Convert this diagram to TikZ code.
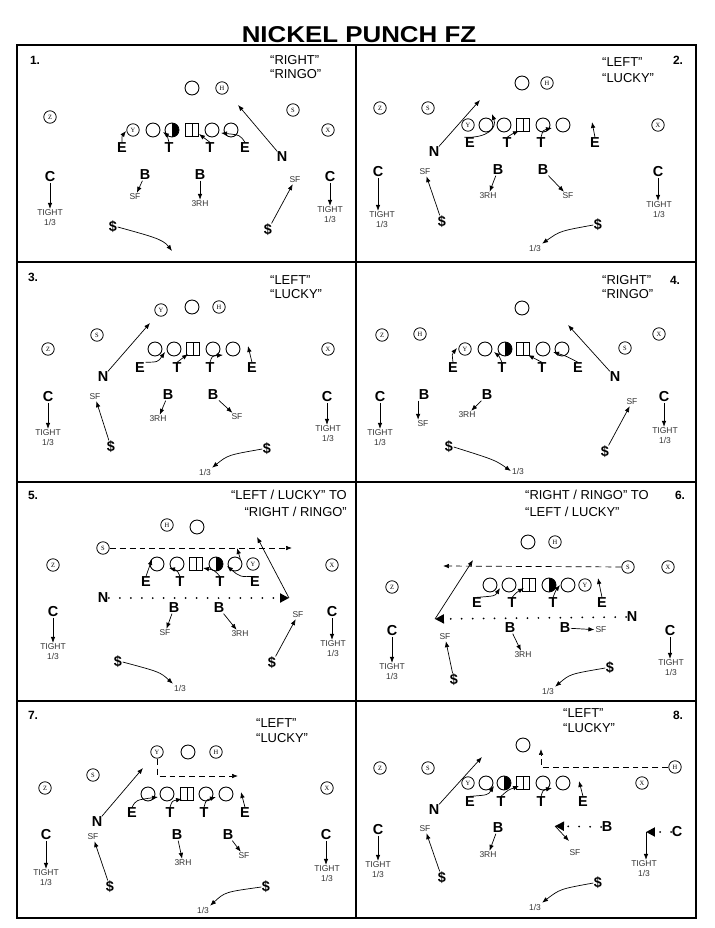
\documentclass[tikz,border=0pt]{standalone}
\usepackage{fontspec}
\usepackage{graphicx}
\setmainfont{Liberation Sans}
\newfontfamily\serifl{Liberation Serif}
\usetikzlibrary{arrows.meta}
\begin{document}
\begin{tikzpicture}[x=1bp,y=-1bp,
  plr/.style={circle,draw,line width=0.9pt,minimum size=14pt,inner sep=0pt},
  lp/.style={circle,draw,line width=0.8pt,minimum size=12.5pt,inner sep=0pt,font=\serifl\fontsize{6.5}{7}\selectfont},
  ctr/.style={rectangle,draw,line width=0.9pt,minimum size=13pt,inner sep=0pt,path picture={\draw[line width=0.9pt] (path picture bounding box.north) -- (path picture bounding box.south);}},
  hlf/.style={plr,path picture={\fill (path picture bounding box.north) rectangle (path picture bounding box.south east);}},
  big/.style={font=\bfseries\fontsize{14.5}{14.5}\selectfont,inner sep=0.5pt},
  num/.style={font=\bfseries\fontsize{12}{12}\selectfont,inner sep=0pt},
  lbl/.style={font=\fontsize{8.5}{10}\selectfont,inner sep=1pt,align=center,text=black!80},
  call/.style={font=\fontsize{13}{#1}\selectfont,inner sep=0pt,align=left,anchor=west},
  call/.default=14,
  arr/.style={-{Latex[length=6pt,width=4.6pt]},line width=0.7pt},
  dsh/.style={arr,dash pattern=on 6pt off 4pt},
  dots/.style={-{Triangle[length=9pt,width=9pt]},line width=2pt,line cap=round,dash pattern=on 0pt off 11pt},
  frame/.style={line width=1.3pt}]
\useasboundingbox (0,0) rectangle (715,928);
\fill[white] (0,0) rectangle (715,928);
\node[font=\bfseries\fontsize{23}{23}\selectfont] (ttl) at (359,35) {\scalebox{1.13}[1]{NICKEL PUNCH FZ}};
\draw[frame] (17,45) rectangle (696,918);
\draw[frame] (356,45) -- (356,918);
\draw[frame] (17,262) -- (696,262);
\draw[frame] (17,482) -- (696,482);
\draw[frame] (17,701) -- (696,701);

% ---------------- Panel 1
\node[num] (p1n) at (35,60) {1.};
\node[call] (p1q) at (270,67) {“RIGHT”\\“RINGO”};
\node[plr] (p1o) at (192,88) {};
\node[lp] (p1H) at (222,88) {H};
\node[lp] (p1S) at (293,110) {S};
\node[lp] (p1Z) at (50,117) {Z};
\node[lp] (p1X) at (328,130) {X};
\node[lp] (p1Y) at (133,130) {Y};
\node[plr] (p1a) at (153,130) {};
\node[hlf] (p1b) at (172,130) {};
\node[ctr] (p1c) at (192,130) {};
\node[plr] (p1d) at (212,130) {};
\node[plr] (p1e) at (231,130) {};
\node[big] (p1E1) at (122,148) {E};
\node[big] (p1T1) at (169,148) {T};
\node[big] (p1T2) at (210,148) {T};
\node[big] (p1E2) at (245,148) {E};
\node[big] (p1N) at (282,157) {N};
\node[big] (p1C1) at (50,177) {C};
\node[big] (p1B1) at (145,175) {B};
\node[big] (p1B2) at (200,175) {B};
\node[big] (p1C2) at (330,177) {C};
\node[big] (p1D1) at (113,227) {\$};
\node[big] (p1D2) at (268,230) {\$};
\node[lbl] (p1t1) at (50,218) {TIGHT\\1/3};
\node[lbl] (p1sf1) at (135,197) {SF};
\node[lbl] (p1rh) at (200,204) {3RH};
\node[lbl] (p1sf2) at (295,180) {SF};
\node[lbl] (p1t2) at (330,215) {TIGHT\\1/3};
\coordinate (p1k1) at (126,131);
\coordinate (p1k2) at (163,132);
\coordinate (p1k3) at (199,134);
\coordinate (p1k4) at (221,133);
\coordinate (p1k5) at (238,105);
\coordinate (p1k6) at (172,251);
\draw[arr] (p1E1.north) .. controls (122,136) .. (p1k1);
\draw[arr] (p1T1.north) .. controls (167,135) .. (p1k2);
\draw[arr] (p1T2.north) -- (p1k3);
\draw[arr] (p1E2.north) .. controls (240,135) .. (p1k4);
\draw[arr] (p1N) -- (p1k5);
\draw[arr] (p1C1.south) -- (p1C1.south |- p1t1.north);
\draw[arr] (p1B1) -- (p1sf1);
\draw[arr] (p1B2) -- (p1rh);
\draw[arr] (p1D2) -- (p1sf2);
\draw[arr] (p1C2.south) -- (p1C2.south |- p1t2.north);
\draw[arr] (p1D1.east) .. controls (150,236) and (163,239) .. (p1k6);

% ---------------- Panel 2
\node[num] (p2n) at (678,60) {2.};
\node[call=16] (p2q) at (602,70) {“LEFT”\\“LUCKY”};
\node[plr] (p2o) at (522,83) {};
\node[lp] (p2H) at (547,83) {H};
\node[lp] (p2Z) at (380,108) {Z};
\node[lp] (p2S) at (428,108) {S};
\node[lp] (p2Y) at (468,125) {Y};
\node[plr] (p2a) at (486,125) {};
\node[plr] (p2b) at (504,125) {};
\node[ctr] (p2c) at (523,125) {};
\node[plr] (p2d) at (543,125) {};
\node[plr] (p2e) at (563,125) {};
\node[lp] (p2X) at (658,125) {X};
\node[big] (p2N) at (434,152) {N};
\node[big] (p2E1) at (470,143) {E};
\node[big] (p2T1) at (507,143) {T};
\node[big] (p2T2) at (541,143) {T};
\node[big] (p2E2) at (595,143) {E};
\node[big] (p2C1) at (378,172) {C};
\node[lbl] (p2sf1) at (425,172) {SF};
\node[big] (p2B1) at (498,170) {B};
\node[big] (p2B2) at (543,170) {B};
\node[big] (p2C2) at (658,172) {C};
\node[big] (p2D1) at (442,222) {\$};
\node[big] (p2D2) at (598,225) {\$};
\node[lbl] (p2t1) at (382,220) {TIGHT\\1/3};
\node[lbl] (p2rh) at (488,196) {3RH};
\node[lbl] (p2sf2) at (568,196) {SF};
\node[lbl] (p2t2) at (659,210) {TIGHT\\1/3};
\node[lbl] (p2l) at (535,248) {1/3};
\coordinate (p2k1) at (480,100);
\coordinate (p2k2) at (492,114);
\coordinate (p2k3) at (519,131);
\coordinate (p2k4) at (552,128);
\coordinate (p2k5) at (592,122);
\draw[arr] (p2N) -- (p2k1);
\draw[arr] (p2E1.north west) .. controls (488,138) and (497,128) .. (p2k2);
\draw[arr] (p2T1.north) .. controls (512,134) .. (p2k3);
\draw[arr] (p2T2.north) .. controls (543,130) .. (p2k4);
\draw[arr] (p2E2.north) -- (p2k5);
\draw[arr] (p2C1.south) -- (p2C1.south |- p2t1.north);
\draw[arr] (p2D1) -- (p2sf1);
\draw[arr] (p2B1) -- (p2rh);
\draw[arr] (p2B2) -- (p2sf2);
\draw[arr] (p2C2.south) -- (p2C2.south |- p2t2.north);
\draw[arr] (p2D2.west) .. controls (560,231) .. (p2l.north east);

% ---------------- Panel 3
\node[num] (p3n) at (33,277) {3.};
\node[call] (p3q) at (270,287) {“LEFT”\\“LUCKY”};
\node[lp] (p3Y) at (161,310) {Y};
\node[plr] (p3o) at (192,307) {};
\node[lp] (p3H) at (219,307) {H};
\node[lp] (p3S) at (97,335) {S};
\node[lp] (p3Z) at (48,349) {Z};
\node[lp] (p3X) at (328,349) {X};
\node[plr] (p3a) at (155,349) {};
\node[plr] (p3b) at (174,349) {};
\node[ctr] (p3c) at (193,349) {};
\node[plr] (p3d) at (213,349) {};
\node[plr] (p3e) at (233,349) {};
\node[big] (p3N) at (103,377) {N};
\node[big] (p3E1) at (140,368) {E};
\node[big] (p3T1) at (177,368) {T};
\node[big] (p3T2) at (210,368) {T};
\node[big] (p3E2) at (252,368) {E};
\node[big] (p3C1) at (48,397) {C};
\node[lbl] (p3sf1) at (95,397) {SF};
\node[big] (p3B1) at (168,395) {B};
\node[big] (p3B2) at (213,395) {B};
\node[big] (p3C2) at (327,397) {C};
\node[big] (p3D1) at (111,447) {\$};
\node[big] (p3D2) at (267,449) {\$};
\node[lbl] (p3t1) at (48,438) {TIGHT\\1/3};
\node[lbl] (p3rh) at (158,419) {3RH};
\node[lbl] (p3sf2) at (237,417) {SF};
\node[lbl] (p3t2) at (328,434) {TIGHT\\1/3};
\node[lbl] (p3l) at (205,472) {1/3};
\coordinate (p3k1) at (150,323);
\coordinate (p3k2) at (165,352);
\coordinate (p3k3) at (188,354);
\coordinate (p3k4) at (223,355);
\coordinate (p3k5) at (248,346);
\draw[arr] (p3N) -- (p3k1);
\draw[arr] (p3E1.north east) .. controls (158,362) .. (p3k2);
\draw[arr] (p3T1.north) -- (p3k3);
\draw[arr] (p3T2.north) .. controls (212,356) .. (p3k4);
\draw[arr] (p3E2.north) -- (p3k5);
\draw[arr] (p3C1.south) -- (p3C1.south |- p3t1.north);
\draw[arr] (p3D1) -- (p3sf1);
\draw[arr] (p3B1) -- (p3rh);
\draw[arr] (p3B2) -- (p3sf2);
\draw[arr] (p3C2.south) -- (p3C2.south |- p3t2.north);
\draw[arr] (p3D2.west) .. controls (228,455) .. (p3l.north east);

% ---------------- Panel 4
\node[num] (p4n) at (675,280) {4.};
\node[call] (p4q) at (602,287) {“RIGHT”\\“RINGO”};
\node[plr] (p4o) at (522,308) {};
\node[lp] (p4Z) at (382,335) {Z};
\node[lp] (p4H) at (420,334) {H};
\node[lp] (p4X) at (659,334) {X};
\node[lp] (p4S) at (625,348) {S};
\node[lp] (p4Y) at (465,349) {Y};
\node[plr] (p4a) at (485,349) {};
\node[hlf] (p4b) at (505,349) {};
\node[ctr] (p4c) at (523,349) {};
\node[plr] (p4d) at (543,349) {};
\node[plr] (p4e) at (562,349) {};
\node[big] (p4E1) at (453,368) {E};
\node[big] (p4T1) at (502,368) {T};
\node[big] (p4T2) at (542,368) {T};
\node[big] (p4E2) at (578,368) {E};
\node[big] (p4N) at (615,377) {N};
\node[big] (p4C1) at (380,397) {C};
\node[big] (p4B1) at (424,395) {B};
\node[big] (p4B2) at (487,395) {B};
\node[lbl] (p4sf2) at (632,402) {SF};
\node[big] (p4C2) at (664,397) {C};
\node[big] (p4D1) at (449,447) {\$};
\node[big] (p4D2) at (605,452) {\$};
\node[lbl] (p4t1) at (380,438) {TIGHT\\1/3};
\node[lbl] (p4sf1) at (423,424) {SF};
\node[lbl] (p4rh) at (467,415) {3RH};
\node[lbl] (p4t2) at (665,436) {TIGHT\\1/3};
\node[lbl] (p4l) at (518,471) {1/3};
\coordinate (p4k1) at (457,348);
\coordinate (p4k2) at (494,352);
\coordinate (p4k3) at (528,355);
\coordinate (p4k4) at (553,352);
\coordinate (p4k5) at (568,325);
\draw[arr] (p4E1.north) .. controls (452,354) .. (p4k1);
\draw[arr] (p4T1.north) .. controls (499,356) .. (p4k2);
\draw[arr] (p4T2.north) -- (p4k3);
\draw[arr] (p4E2.north) .. controls (566,356) .. (p4k4);
\draw[arr] (p4N) -- (p4k5);
\draw[arr] (p4C1.south) -- (p4C1.south |- p4t1.north);
\draw[arr] (p4B1.south west) -- (p4B1.south west |- p4sf1.north);
\draw[arr] (p4B2) -- (p4rh);
\draw[arr] (p4D2) -- (p4sf2);
\draw[arr] (p4C2.south) -- (p4C2.south |- p4t2.north);
\draw[arr] (p4D1.east) .. controls (495,460) .. (p4l.west);

% ---------------- Panel 5
\node[num] (p5n) at (33,495) {5.};
\node[call=17,anchor=east,align=right] (p5q) at (347,503) {“LEFT / LUCKY” TO\\“RIGHT / RINGO”};
\node[lp] (p5H) at (167,525) {H};
\node[plr] (p5o) at (197,527) {};
\node[lp] (p5S) at (103,548) {S};
\node[lp] (p5Z) at (53,565) {Z};
\node[lp] (p5X) at (332,565) {X};
\node[plr] (p5a) at (157,564) {};
\node[plr] (p5b) at (177,564) {};
\node[ctr] (p5c) at (196,564) {};
\node[hlf] (p5d) at (216,564) {};
\node[plr] (p5e) at (235,564) {};
\node[lp] (p5Y) at (253,564) {Y};
\node[big] (p5E1) at (146,582) {E};
\node[big] (p5T1) at (180,582) {T};
\node[big] (p5T2) at (220,582) {T};
\node[big] (p5E2) at (255,582) {E};
\node[big] (p5N) at (103,598) {N};
\node[big] (p5B1) at (174,608) {B};
\node[big] (p5B2) at (219,608) {B};
\node[lbl] (p5sf3) at (298,615) {SF};
\node[big] (p5C1) at (53,612) {C};
\node[big] (p5C2) at (332,612) {C};
\node[big] (p5D1) at (118,662) {\$};
\node[big] (p5D2) at (272,663) {\$};
\node[lbl] (p5sf1) at (165,633) {SF};
\node[lbl] (p5rh) at (240,634) {3RH};
\node[lbl] (p5t1) at (53,652) {TIGHT\\1/3};
\node[lbl] (p5t2) at (333,649) {TIGHT\\1/3};
\node[lbl] (p5l) at (180,688) {1/3};
\coordinate (p5k0) at (292,548);
\coordinate (p5k1) at (152,559);
\coordinate (p5k2) at (169,568);
\coordinate (p5k3) at (203,568);
\coordinate (p5k4) at (227,566);
\coordinate (p5k5) at (237,548);
\coordinate (p5k6) at (289,598);
\coordinate (p5k7) at (257,537);
\draw[dsh] (p5S) -- (p5k0);
\draw[arr] (p5E1.north) -- (p5k1);
\draw[arr] (p5T1.north) .. controls (177,570) .. (p5k2);
\draw[arr] (p5T2.north) .. controls (214,570) .. (p5k3);
\draw[arr] (p5E2.north) .. controls (240,577) .. (p5k4);
\draw[arr] (p5e.north east) -- (p5k5);
\draw[dots] (p5N.east) -- (p5k6);
\draw[arr] (p5k6) -- (p5k7);
\draw[arr] (p5B1) -- (p5sf1);
\draw[arr] (p5B2) -- (p5rh);
\draw[arr] (p5D2) -- (p5sf3);
\draw[arr] (p5C1.south) -- (p5C1.south |- p5t1.north);
\draw[arr] (p5C2.south) -- (p5C2.south |- p5t2.north);
\draw[arr] (p5D1.east) .. controls (160,672) .. (p5l.north west);

% ---------------- Panel 6
\node[num] (p6n) at (680,495) {6.};
\node[call=17] (p6q) at (525,503) {“RIGHT / RINGO” TO\\“LEFT / LUCKY”};
\node[plr] (p6o) at (528,542) {};
\node[lp] (p6H) at (555,542) {H};
\node[lp] (p6S) at (628,567) {S};
\node[lp] (p6X) at (668,567) {X};
\node[lp] (p6Z) at (392,587) {Z};
\node[plr] (p6a) at (490,585) {};
\node[plr] (p6b) at (509,585) {};
\node[ctr] (p6c) at (529,585) {};
\node[hlf] (p6d) at (549,585) {};
\node[plr] (p6e) at (568,585) {};
\node[lp] (p6Y) at (585,585) {Y};
\node[big] (p6E1) at (477,603) {E};
\node[big] (p6T1) at (512,603) {T};
\node[big] (p6T2) at (553,603) {T};
\node[big] (p6E2) at (602,603) {E};
\node[big] (p6N) at (632,617) {N};
\node[big] (p6B1) at (510,628) {B};
\node[big] (p6B2) at (565,628) {B};
\node[big] (p6C1) at (392,631) {C};
\node[lbl] (p6sf1) at (445,637) {SF};
\node[big] (p6C2) at (670,631) {C};
\node[big] (p6D1) at (454,680) {\$};
\node[big] (p6D2) at (610,668) {\$};
\node[lbl] (p6rh) at (523,655) {3RH};
\node[lbl] (p6sf2) at (601,630) {SF};
\node[lbl] (p6t1) at (392,672) {TIGHT\\1/3};
\node[lbl] (p6t2) at (671,668) {TIGHT\\1/3};
\node[lbl] (p6l) at (548,691) {1/3};
\coordinate (p6k0) at (443,566);
\coordinate (p6k1) at (500,588);
\coordinate (p6k2) at (524,588);
\coordinate (p6k3) at (560,585);
\coordinate (p6k4) at (598,578);
\coordinate (p6k5) at (435,619);
\coordinate (p6k6) at (473,560);
\draw[dsh] (p6S) -- (p6k0);
\draw[arr] (p6E1.north) .. controls (495,596) .. (p6k1);
\draw[arr] (p6T1.north) .. controls (517,592) .. (p6k2);
\draw[arr] (p6T2.north) .. controls (556,590) .. (p6k3);
\draw[arr] (p6E2.north) -- (p6k4);
\draw[dots] (p6N.west) -- (p6k5);
\draw[arr] (p6k5) -- (p6k6);
\draw[arr] (p6B1) -- (p6rh);
\draw[arr] (p6B2) -- (p6sf2);
\draw[arr] (p6D1) -- (p6sf1);
\draw[arr] (p6C1.south) -- (p6C1.south |- p6t1.north);
\draw[arr] (p6C2.south) -- (p6C2.south |- p6t2.north);
\draw[arr] (p6D2.west) .. controls (570,674) .. (p6l.north east);

% ---------------- Panel 7
\node[num] (p7n) at (33,715) {7.};
\node[call=15] (p7q) at (256,731) {“LEFT”\\“LUCKY”};
\node[lp] (p7Y) at (157,752) {Y};
\node[plr] (p7o) at (188,752) {};
\node[lp] (p7H) at (216,752) {H};
\node[lp] (p7S) at (93,775) {S};
\node[lp] (p7Z) at (45,788) {Z};
\node[lp] (p7X) at (327,788) {X};
\node[plr] (p7a) at (148,794) {};
\node[plr] (p7b) at (167,794) {};
\node[ctr] (p7c) at (187,794) {};
\node[plr] (p7d) at (206,794) {};
\node[plr] (p7e) at (226,794) {};
\node[big] (p7N) at (97,822) {N};
\node[big] (p7E1) at (132,813) {E};
\node[big] (p7T1) at (170,813) {T};
\node[big] (p7T2) at (204,813) {T};
\node[big] (p7E2) at (245,813) {E};
\node[big] (p7C1) at (46,835) {C};
\node[lbl] (p7sf1) at (93,837) {SF};
\node[big] (p7B1) at (177,835) {B};
\node[big] (p7B2) at (228,835) {B};
\node[big] (p7C2) at (326,835) {C};
\node[big] (p7D1) at (110,887) {\$};
\node[big] (p7D2) at (266,887) {\$};
\node[lbl] (p7t1) at (46,878) {TIGHT\\1/3};
\node[lbl] (p7rh) at (183,863) {3RH};
\node[lbl] (p7sf2) at (244,856) {SF};
\node[lbl] (p7t2) at (327,874) {TIGHT\\1/3};
\node[lbl] (p7l) at (203,910) {1/3};
\coordinate (p7k0) at (238,776);
\coordinate (p7k1) at (143,768);
\coordinate (p7k2) at (158,797);
\coordinate (p7k3) at (182,799);
\coordinate (p7k4) at (216,797);
\coordinate (p7k5) at (241,792);
\draw[dsh] (p7Y.south) |- (p7k0);
\draw[arr] (p7N) -- (p7k1);
\draw[arr] (p7E1.north) .. controls (136,800) .. (p7k2);
\draw[arr] (p7T1.north) .. controls (172,801) .. (p7k3);
\draw[arr] (p7T2.north) .. controls (206,800) .. (p7k4);
\draw[arr] (p7E2.north) -- (p7k5);
\draw[arr] (p7D1) -- (p7sf1);
\draw[arr] (p7B1) -- (p7rh);
\draw[arr] (p7B2) -- (p7sf2);
\draw[arr] (p7C1.south) -- (p7C1.south |- p7t1.north);
\draw[arr] (p7C2.south) -- (p7C2.south |- p7t2.north);
\draw[arr] (p7D2.west) .. controls (225,892) .. (p7l.north east);

% ---------------- Panel 8
\node[num] (p8n) at (678,715) {8.};
\node[call=15] (p8q) at (563,721) {“LEFT”\\“LUCKY”};
\node[plr] (p8o) at (523,745) {};
\node[lp] (p8Z) at (380,768) {Z};
\node[lp] (p8S) at (428,768) {S};
\node[lp] (p8H) at (675,767) {H};
\node[lp] (p8Y) at (468,783) {Y};
\node[plr] (p8a) at (486,783) {};
\node[hlf] (p8b) at (504,783) {};
\node[ctr] (p8c) at (523,783) {};
\node[plr] (p8d) at (543,783) {};
\node[plr] (p8e) at (563,783) {};
\node[lp] (p8X) at (642,783) {X};
\node[big] (p8N) at (434,810) {N};
\node[big] (p8E1) at (470,802) {E};
\node[big] (p8T1) at (501,802) {T};
\node[big] (p8T2) at (541,802) {T};
\node[big] (p8E2) at (583,802) {E};
\node[big] (p8C1) at (378,830) {C};
\node[lbl] (p8sf1) at (425,829) {SF};
\node[big] (p8B1) at (498,828) {B};
\node[big] (p8B2) at (607,827) {B};
\node[big] (p8C2) at (677,832) {C};
\node[big] (p8D1) at (442,878) {\$};
\node[big] (p8D2) at (598,883) {\$};
\node[lbl] (p8t1) at (378,870) {TIGHT\\1/3};
\node[lbl] (p8rh) at (488,855) {3RH};
\node[lbl] (p8sf2) at (575,853) {SF};
\node[lbl] (p8t2) at (644,869) {TIGHT\\1/3};
\node[lbl] (p8l) at (535,907) {1/3};
\coordinate (p8k0) at (541,767);
\coordinate (p8k0b) at (541,749);
\coordinate (p8k1) at (482,757);
\coordinate (p8k2) at (494,786);
\coordinate (p8k3) at (519,786);
\coordinate (p8k4) at (552,788);
\coordinate (p8k5) at (579,781);
\coordinate (p8k6) at (555,826);
\coordinate (p8k7) at (569,841);
\coordinate (p8k8) at (646,832);
\draw[dsh] (p8H) -- (p8k0) -- (p8k0b);
\draw[arr] (p8N) -- (p8k1);
\draw[arr] (p8E1.north) .. controls (488,795) .. (p8k2);
\draw[arr] (p8T1.north) .. controls (508,790) .. (p8k3);
\draw[arr] (p8T2.north) .. controls (543,790) .. (p8k4);
\draw[arr] (p8E2.north) -- (p8k5);
\draw[arr] (p8C1.south) -- (p8C1.south |- p8t1.north);
\draw[arr] (p8D1) -- (p8sf1);
\draw[arr] (p8B1) -- (p8rh);
\draw[dots] (p8B2.west) -- (p8k6);
\draw[arr] (p8k6) -- (p8k7);
\draw[dots] (p8C2.west) -- (p8k8);
\draw[arr] (p8k8) -- (p8k8 |- p8t2.north);
\draw[arr] (p8D2.west) .. controls (560,889) .. (p8l.north east);
\end{tikzpicture}
\end{document}
